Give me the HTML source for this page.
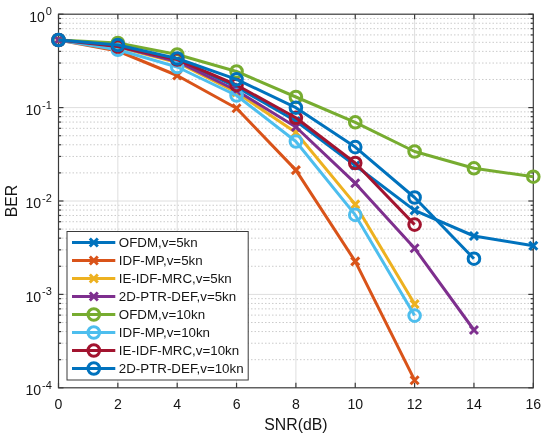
<!DOCTYPE html>
<html><head><meta charset="utf-8"><title>BER vs SNR</title>
<style>html,body{margin:0;padding:0;background:#fff;width:550px;height:434px;overflow:hidden}svg{display:block;filter:blur(0.45px)}text{font-family:"Liberation Sans",Arial,Helvetica,sans-serif;fill:#151515}</style>
</head><body>
<svg width="550" height="434" viewBox="0 0 550 434">
<rect x="0" y="0" width="550" height="434" fill="#fff"/>
<g stroke="#CBCBCB" stroke-width="1" stroke-dasharray="1.5 2" fill="none">
<line x1="58.50" y1="79.48" x2="533.30" y2="79.48"/>
<line x1="58.50" y1="63.04" x2="533.30" y2="63.04"/>
<line x1="58.50" y1="51.37" x2="533.30" y2="51.37"/>
<line x1="58.50" y1="42.32" x2="533.30" y2="42.32"/>
<line x1="58.50" y1="34.92" x2="533.30" y2="34.92"/>
<line x1="58.50" y1="28.67" x2="533.30" y2="28.67"/>
<line x1="58.50" y1="23.25" x2="533.30" y2="23.25"/>
<line x1="58.50" y1="18.47" x2="533.30" y2="18.47"/>
<line x1="58.50" y1="172.88" x2="533.30" y2="172.88"/>
<line x1="58.50" y1="156.44" x2="533.30" y2="156.44"/>
<line x1="58.50" y1="144.77" x2="533.30" y2="144.77"/>
<line x1="58.50" y1="135.72" x2="533.30" y2="135.72"/>
<line x1="58.50" y1="128.32" x2="533.30" y2="128.32"/>
<line x1="58.50" y1="122.07" x2="533.30" y2="122.07"/>
<line x1="58.50" y1="116.65" x2="533.30" y2="116.65"/>
<line x1="58.50" y1="111.87" x2="533.30" y2="111.87"/>
<line x1="58.50" y1="266.28" x2="533.30" y2="266.28"/>
<line x1="58.50" y1="249.84" x2="533.30" y2="249.84"/>
<line x1="58.50" y1="238.17" x2="533.30" y2="238.17"/>
<line x1="58.50" y1="229.12" x2="533.30" y2="229.12"/>
<line x1="58.50" y1="221.72" x2="533.30" y2="221.72"/>
<line x1="58.50" y1="215.47" x2="533.30" y2="215.47"/>
<line x1="58.50" y1="210.05" x2="533.30" y2="210.05"/>
<line x1="58.50" y1="205.27" x2="533.30" y2="205.27"/>
<line x1="58.50" y1="359.68" x2="533.30" y2="359.68"/>
<line x1="58.50" y1="343.24" x2="533.30" y2="343.24"/>
<line x1="58.50" y1="331.57" x2="533.30" y2="331.57"/>
<line x1="58.50" y1="322.52" x2="533.30" y2="322.52"/>
<line x1="58.50" y1="315.12" x2="533.30" y2="315.12"/>
<line x1="58.50" y1="308.87" x2="533.30" y2="308.87"/>
<line x1="58.50" y1="303.45" x2="533.30" y2="303.45"/>
<line x1="58.50" y1="298.67" x2="533.30" y2="298.67"/>
</g>
<g stroke="#DEDEDE" stroke-width="1" fill="none">
<line x1="117.85" y1="14.20" x2="117.85" y2="387.80"/>
<line x1="177.20" y1="14.20" x2="177.20" y2="387.80"/>
<line x1="236.55" y1="14.20" x2="236.55" y2="387.80"/>
<line x1="295.90" y1="14.20" x2="295.90" y2="387.80"/>
<line x1="355.25" y1="14.20" x2="355.25" y2="387.80"/>
<line x1="414.60" y1="14.20" x2="414.60" y2="387.80"/>
<line x1="473.95" y1="14.20" x2="473.95" y2="387.80"/>
<line x1="58.50" y1="107.60" x2="533.30" y2="107.60"/>
<line x1="58.50" y1="201.00" x2="533.30" y2="201.00"/>
<line x1="58.50" y1="294.40" x2="533.30" y2="294.40"/>
</g>
<g stroke="#3a3a3a" stroke-width="1.2" fill="none">
<rect x="58.50" y="14.20" width="474.80" height="373.60"/>
<line x1="58.50" y1="387.80" x2="58.50" y2="382.80"/>
<line x1="58.50" y1="14.20" x2="58.50" y2="19.20"/>
<line x1="117.85" y1="387.80" x2="117.85" y2="382.80"/>
<line x1="117.85" y1="14.20" x2="117.85" y2="19.20"/>
<line x1="177.20" y1="387.80" x2="177.20" y2="382.80"/>
<line x1="177.20" y1="14.20" x2="177.20" y2="19.20"/>
<line x1="236.55" y1="387.80" x2="236.55" y2="382.80"/>
<line x1="236.55" y1="14.20" x2="236.55" y2="19.20"/>
<line x1="295.90" y1="387.80" x2="295.90" y2="382.80"/>
<line x1="295.90" y1="14.20" x2="295.90" y2="19.20"/>
<line x1="355.25" y1="387.80" x2="355.25" y2="382.80"/>
<line x1="355.25" y1="14.20" x2="355.25" y2="19.20"/>
<line x1="414.60" y1="387.80" x2="414.60" y2="382.80"/>
<line x1="414.60" y1="14.20" x2="414.60" y2="19.20"/>
<line x1="473.95" y1="387.80" x2="473.95" y2="382.80"/>
<line x1="473.95" y1="14.20" x2="473.95" y2="19.20"/>
<line x1="533.30" y1="387.80" x2="533.30" y2="382.80"/>
<line x1="533.30" y1="14.20" x2="533.30" y2="19.20"/>
<line x1="58.50" y1="14.20" x2="63.50" y2="14.20"/>
<line x1="533.30" y1="14.20" x2="528.30" y2="14.20"/>
<line x1="58.50" y1="107.60" x2="63.50" y2="107.60"/>
<line x1="533.30" y1="107.60" x2="528.30" y2="107.60"/>
<line x1="58.50" y1="201.00" x2="63.50" y2="201.00"/>
<line x1="533.30" y1="201.00" x2="528.30" y2="201.00"/>
<line x1="58.50" y1="294.40" x2="63.50" y2="294.40"/>
<line x1="533.30" y1="294.40" x2="528.30" y2="294.40"/>
<line x1="58.50" y1="387.80" x2="63.50" y2="387.80"/>
<line x1="533.30" y1="387.80" x2="528.30" y2="387.80"/>
<line x1="58.50" y1="79.48" x2="61.20" y2="79.48"/>
<line x1="533.30" y1="79.48" x2="530.60" y2="79.48"/>
<line x1="58.50" y1="63.04" x2="61.20" y2="63.04"/>
<line x1="533.30" y1="63.04" x2="530.60" y2="63.04"/>
<line x1="58.50" y1="51.37" x2="61.20" y2="51.37"/>
<line x1="533.30" y1="51.37" x2="530.60" y2="51.37"/>
<line x1="58.50" y1="42.32" x2="61.20" y2="42.32"/>
<line x1="533.30" y1="42.32" x2="530.60" y2="42.32"/>
<line x1="58.50" y1="34.92" x2="61.20" y2="34.92"/>
<line x1="533.30" y1="34.92" x2="530.60" y2="34.92"/>
<line x1="58.50" y1="28.67" x2="61.20" y2="28.67"/>
<line x1="533.30" y1="28.67" x2="530.60" y2="28.67"/>
<line x1="58.50" y1="23.25" x2="61.20" y2="23.25"/>
<line x1="533.30" y1="23.25" x2="530.60" y2="23.25"/>
<line x1="58.50" y1="18.47" x2="61.20" y2="18.47"/>
<line x1="533.30" y1="18.47" x2="530.60" y2="18.47"/>
<line x1="58.50" y1="172.88" x2="61.20" y2="172.88"/>
<line x1="533.30" y1="172.88" x2="530.60" y2="172.88"/>
<line x1="58.50" y1="156.44" x2="61.20" y2="156.44"/>
<line x1="533.30" y1="156.44" x2="530.60" y2="156.44"/>
<line x1="58.50" y1="144.77" x2="61.20" y2="144.77"/>
<line x1="533.30" y1="144.77" x2="530.60" y2="144.77"/>
<line x1="58.50" y1="135.72" x2="61.20" y2="135.72"/>
<line x1="533.30" y1="135.72" x2="530.60" y2="135.72"/>
<line x1="58.50" y1="128.32" x2="61.20" y2="128.32"/>
<line x1="533.30" y1="128.32" x2="530.60" y2="128.32"/>
<line x1="58.50" y1="122.07" x2="61.20" y2="122.07"/>
<line x1="533.30" y1="122.07" x2="530.60" y2="122.07"/>
<line x1="58.50" y1="116.65" x2="61.20" y2="116.65"/>
<line x1="533.30" y1="116.65" x2="530.60" y2="116.65"/>
<line x1="58.50" y1="111.87" x2="61.20" y2="111.87"/>
<line x1="533.30" y1="111.87" x2="530.60" y2="111.87"/>
<line x1="58.50" y1="266.28" x2="61.20" y2="266.28"/>
<line x1="533.30" y1="266.28" x2="530.60" y2="266.28"/>
<line x1="58.50" y1="249.84" x2="61.20" y2="249.84"/>
<line x1="533.30" y1="249.84" x2="530.60" y2="249.84"/>
<line x1="58.50" y1="238.17" x2="61.20" y2="238.17"/>
<line x1="533.30" y1="238.17" x2="530.60" y2="238.17"/>
<line x1="58.50" y1="229.12" x2="61.20" y2="229.12"/>
<line x1="533.30" y1="229.12" x2="530.60" y2="229.12"/>
<line x1="58.50" y1="221.72" x2="61.20" y2="221.72"/>
<line x1="533.30" y1="221.72" x2="530.60" y2="221.72"/>
<line x1="58.50" y1="215.47" x2="61.20" y2="215.47"/>
<line x1="533.30" y1="215.47" x2="530.60" y2="215.47"/>
<line x1="58.50" y1="210.05" x2="61.20" y2="210.05"/>
<line x1="533.30" y1="210.05" x2="530.60" y2="210.05"/>
<line x1="58.50" y1="205.27" x2="61.20" y2="205.27"/>
<line x1="533.30" y1="205.27" x2="530.60" y2="205.27"/>
<line x1="58.50" y1="359.68" x2="61.20" y2="359.68"/>
<line x1="533.30" y1="359.68" x2="530.60" y2="359.68"/>
<line x1="58.50" y1="343.24" x2="61.20" y2="343.24"/>
<line x1="533.30" y1="343.24" x2="530.60" y2="343.24"/>
<line x1="58.50" y1="331.57" x2="61.20" y2="331.57"/>
<line x1="533.30" y1="331.57" x2="530.60" y2="331.57"/>
<line x1="58.50" y1="322.52" x2="61.20" y2="322.52"/>
<line x1="533.30" y1="322.52" x2="530.60" y2="322.52"/>
<line x1="58.50" y1="315.12" x2="61.20" y2="315.12"/>
<line x1="533.30" y1="315.12" x2="530.60" y2="315.12"/>
<line x1="58.50" y1="308.87" x2="61.20" y2="308.87"/>
<line x1="533.30" y1="308.87" x2="530.60" y2="308.87"/>
<line x1="58.50" y1="303.45" x2="61.20" y2="303.45"/>
<line x1="533.30" y1="303.45" x2="530.60" y2="303.45"/>
<line x1="58.50" y1="298.67" x2="61.20" y2="298.67"/>
<line x1="533.30" y1="298.67" x2="530.60" y2="298.67"/>
</g>
<g font-size="14.10" text-anchor="middle">
<text x="58.50" y="409.30">0</text>
<text x="117.85" y="409.30">2</text>
<text x="177.20" y="409.30">4</text>
<text x="236.55" y="409.30">6</text>
<text x="295.90" y="409.30">8</text>
<text x="355.25" y="409.30">10</text>
<text x="414.60" y="409.30">12</text>
<text x="473.95" y="409.30">14</text>
<text x="533.30" y="409.30">16</text>
</g>
<text x="51.8" y="21.60" font-size="14.10" text-anchor="end">10<tspan font-size="11.00" dx="0.8" dy="-6.5">0</tspan></text>
<text x="51.8" y="115.00" font-size="14.10" text-anchor="end">10<tspan font-size="11.00" dx="0.8" dy="-6.5">-1</tspan></text>
<text x="51.8" y="208.40" font-size="14.10" text-anchor="end">10<tspan font-size="11.00" dx="0.8" dy="-6.5">-2</tspan></text>
<text x="51.8" y="301.80" font-size="14.10" text-anchor="end">10<tspan font-size="11.00" dx="0.8" dy="-6.5">-3</tspan></text>
<text x="51.8" y="395.20" font-size="14.10" text-anchor="end">10<tspan font-size="11.00" dx="0.8" dy="-6.5">-4</tspan></text>
<text x="295.90" y="429.5" font-size="15.80" text-anchor="middle">SNR(dB)</text>
<text transform="translate(17.2 201.00) rotate(-90)" font-size="15.80" text-anchor="middle">BER</text>
<g stroke-linejoin="round" stroke-linecap="butt">
<polyline points="58.50,40.00 117.85,46.00 177.20,60.00 236.55,87.00 295.90,121.00 355.25,165.50 414.60,210.40 473.95,236.00 533.30,245.70" fill="none" stroke="#0072BD" stroke-width="3.00"/>
<path d="M54.50 36.00L62.50 44.00M54.50 44.00L62.50 36.00" stroke="#0072BD" stroke-width="3.00" fill="none"/>
<path d="M113.85 42.00L121.85 50.00M113.85 50.00L121.85 42.00" stroke="#0072BD" stroke-width="3.00" fill="none"/>
<path d="M173.20 56.00L181.20 64.00M173.20 64.00L181.20 56.00" stroke="#0072BD" stroke-width="3.00" fill="none"/>
<path d="M232.55 83.00L240.55 91.00M232.55 91.00L240.55 83.00" stroke="#0072BD" stroke-width="3.00" fill="none"/>
<path d="M291.90 117.00L299.90 125.00M291.90 125.00L299.90 117.00" stroke="#0072BD" stroke-width="3.00" fill="none"/>
<path d="M351.25 161.50L359.25 169.50M351.25 169.50L359.25 161.50" stroke="#0072BD" stroke-width="3.00" fill="none"/>
<path d="M410.60 206.40L418.60 214.40M410.60 214.40L418.60 206.40" stroke="#0072BD" stroke-width="3.00" fill="none"/>
<path d="M469.95 232.00L477.95 240.00M469.95 240.00L477.95 232.00" stroke="#0072BD" stroke-width="3.00" fill="none"/>
<path d="M529.30 241.70L537.30 249.70M529.30 249.70L537.30 241.70" stroke="#0072BD" stroke-width="3.00" fill="none"/>
<polyline points="58.50,40.00 117.85,51.00 177.20,75.50 236.55,108.30 295.90,170.10 355.25,261.40 414.60,380.20" fill="none" stroke="#D95319" stroke-width="3.00"/>
<path d="M54.50 36.00L62.50 44.00M54.50 44.00L62.50 36.00" stroke="#D95319" stroke-width="3.00" fill="none"/>
<path d="M113.85 47.00L121.85 55.00M113.85 55.00L121.85 47.00" stroke="#D95319" stroke-width="3.00" fill="none"/>
<path d="M173.20 71.50L181.20 79.50M173.20 79.50L181.20 71.50" stroke="#D95319" stroke-width="3.00" fill="none"/>
<path d="M232.55 104.30L240.55 112.30M232.55 112.30L240.55 104.30" stroke="#D95319" stroke-width="3.00" fill="none"/>
<path d="M291.90 166.10L299.90 174.10M291.90 174.10L299.90 166.10" stroke="#D95319" stroke-width="3.00" fill="none"/>
<path d="M351.25 257.40L359.25 265.40M351.25 265.40L359.25 257.40" stroke="#D95319" stroke-width="3.00" fill="none"/>
<path d="M410.60 376.20L418.60 384.20M410.60 384.20L418.60 376.20" stroke="#D95319" stroke-width="3.00" fill="none"/>
<polyline points="58.50,40.00 117.85,47.00 177.20,62.50 236.55,92.50 295.90,132.50 355.25,204.40 414.60,304.10" fill="none" stroke="#EDB120" stroke-width="3.00"/>
<path d="M54.50 36.00L62.50 44.00M54.50 44.00L62.50 36.00" stroke="#EDB120" stroke-width="3.00" fill="none"/>
<path d="M113.85 43.00L121.85 51.00M113.85 51.00L121.85 43.00" stroke="#EDB120" stroke-width="3.00" fill="none"/>
<path d="M173.20 58.50L181.20 66.50M173.20 66.50L181.20 58.50" stroke="#EDB120" stroke-width="3.00" fill="none"/>
<path d="M232.55 88.50L240.55 96.50M232.55 96.50L240.55 88.50" stroke="#EDB120" stroke-width="3.00" fill="none"/>
<path d="M291.90 128.50L299.90 136.50M291.90 136.50L299.90 128.50" stroke="#EDB120" stroke-width="3.00" fill="none"/>
<path d="M351.25 200.40L359.25 208.40M351.25 208.40L359.25 200.40" stroke="#EDB120" stroke-width="3.00" fill="none"/>
<path d="M410.60 300.10L418.60 308.10M410.60 308.10L418.60 300.10" stroke="#EDB120" stroke-width="3.00" fill="none"/>
<polyline points="58.50,40.00 117.85,46.50 177.20,61.50 236.55,90.50 295.90,127.00 355.25,183.20 414.60,248.30 473.95,330.00" fill="none" stroke="#7E2F8E" stroke-width="3.00"/>
<path d="M54.50 36.00L62.50 44.00M54.50 44.00L62.50 36.00" stroke="#7E2F8E" stroke-width="3.00" fill="none"/>
<path d="M113.85 42.50L121.85 50.50M113.85 50.50L121.85 42.50" stroke="#7E2F8E" stroke-width="3.00" fill="none"/>
<path d="M173.20 57.50L181.20 65.50M173.20 65.50L181.20 57.50" stroke="#7E2F8E" stroke-width="3.00" fill="none"/>
<path d="M232.55 86.50L240.55 94.50M232.55 94.50L240.55 86.50" stroke="#7E2F8E" stroke-width="3.00" fill="none"/>
<path d="M291.90 123.00L299.90 131.00M291.90 131.00L299.90 123.00" stroke="#7E2F8E" stroke-width="3.00" fill="none"/>
<path d="M351.25 179.20L359.25 187.20M351.25 187.20L359.25 179.20" stroke="#7E2F8E" stroke-width="3.00" fill="none"/>
<path d="M410.60 244.30L418.60 252.30M410.60 252.30L418.60 244.30" stroke="#7E2F8E" stroke-width="3.00" fill="none"/>
<path d="M469.95 326.00L477.95 334.00M469.95 334.00L477.95 326.00" stroke="#7E2F8E" stroke-width="3.00" fill="none"/>
<polyline points="58.50,40.00 117.85,43.00 177.20,54.50 236.55,71.50 295.90,97.00 355.25,122.30 414.60,151.50 473.95,168.30 533.30,176.70" fill="none" stroke="#77AC30" stroke-width="3.00"/>
<circle cx="58.50" cy="40.00" r="5.80" fill="none" stroke="#77AC30" stroke-width="3.00"/>
<circle cx="117.85" cy="43.00" r="5.80" fill="none" stroke="#77AC30" stroke-width="3.00"/>
<circle cx="177.20" cy="54.50" r="5.80" fill="none" stroke="#77AC30" stroke-width="3.00"/>
<circle cx="236.55" cy="71.50" r="5.80" fill="none" stroke="#77AC30" stroke-width="3.00"/>
<circle cx="295.90" cy="97.00" r="5.80" fill="none" stroke="#77AC30" stroke-width="3.00"/>
<circle cx="355.25" cy="122.30" r="5.80" fill="none" stroke="#77AC30" stroke-width="3.00"/>
<circle cx="414.60" cy="151.50" r="5.80" fill="none" stroke="#77AC30" stroke-width="3.00"/>
<circle cx="473.95" cy="168.30" r="5.80" fill="none" stroke="#77AC30" stroke-width="3.00"/>
<circle cx="533.30" cy="176.70" r="5.80" fill="none" stroke="#77AC30" stroke-width="3.00"/>
<polyline points="58.50,40.00 117.85,49.80 177.20,67.00 236.55,95.50 295.90,141.50 355.25,214.90 414.60,315.60" fill="none" stroke="#4DBEEE" stroke-width="3.00"/>
<circle cx="58.50" cy="40.00" r="5.80" fill="none" stroke="#4DBEEE" stroke-width="3.00"/>
<circle cx="117.85" cy="49.80" r="5.80" fill="none" stroke="#4DBEEE" stroke-width="3.00"/>
<circle cx="177.20" cy="67.00" r="5.80" fill="none" stroke="#4DBEEE" stroke-width="3.00"/>
<circle cx="236.55" cy="95.50" r="5.80" fill="none" stroke="#4DBEEE" stroke-width="3.00"/>
<circle cx="295.90" cy="141.50" r="5.80" fill="none" stroke="#4DBEEE" stroke-width="3.00"/>
<circle cx="355.25" cy="214.90" r="5.80" fill="none" stroke="#4DBEEE" stroke-width="3.00"/>
<circle cx="414.60" cy="315.60" r="5.80" fill="none" stroke="#4DBEEE" stroke-width="3.00"/>
<polyline points="58.50,40.00 117.85,46.50 177.20,59.50 236.55,85.00 295.90,117.80 355.25,163.00 414.60,224.60" fill="none" stroke="#A2142F" stroke-width="3.00"/>
<circle cx="58.50" cy="40.00" r="5.80" fill="none" stroke="#A2142F" stroke-width="3.00"/>
<circle cx="117.85" cy="46.50" r="5.80" fill="none" stroke="#A2142F" stroke-width="3.00"/>
<circle cx="177.20" cy="59.50" r="5.80" fill="none" stroke="#A2142F" stroke-width="3.00"/>
<circle cx="236.55" cy="85.00" r="5.80" fill="none" stroke="#A2142F" stroke-width="3.00"/>
<circle cx="295.90" cy="117.80" r="5.80" fill="none" stroke="#A2142F" stroke-width="3.00"/>
<circle cx="355.25" cy="163.00" r="5.80" fill="none" stroke="#A2142F" stroke-width="3.00"/>
<circle cx="414.60" cy="224.60" r="5.80" fill="none" stroke="#A2142F" stroke-width="3.00"/>
<polyline points="58.50,40.00 117.85,45.00 177.20,58.50 236.55,79.30 295.90,107.70 355.25,147.10 414.60,197.50 473.95,258.70" fill="none" stroke="#0072BD" stroke-width="3.00"/>
<circle cx="58.50" cy="40.00" r="5.80" fill="none" stroke="#0072BD" stroke-width="3.00"/>
<circle cx="117.85" cy="45.00" r="5.80" fill="none" stroke="#0072BD" stroke-width="3.00"/>
<circle cx="177.20" cy="58.50" r="5.80" fill="none" stroke="#0072BD" stroke-width="3.00"/>
<circle cx="236.55" cy="79.30" r="5.80" fill="none" stroke="#0072BD" stroke-width="3.00"/>
<circle cx="295.90" cy="107.70" r="5.80" fill="none" stroke="#0072BD" stroke-width="3.00"/>
<circle cx="355.25" cy="147.10" r="5.80" fill="none" stroke="#0072BD" stroke-width="3.00"/>
<circle cx="414.60" cy="197.50" r="5.80" fill="none" stroke="#0072BD" stroke-width="3.00"/>
<circle cx="473.95" cy="258.70" r="5.80" fill="none" stroke="#0072BD" stroke-width="3.00"/>
</g>
<rect x="67.00" y="231.50" width="181.20" height="148.50" fill="#fff" stroke="#3a3a3a" stroke-width="1"/>
<line x1="72" y1="242.50" x2="115.3" y2="242.50" stroke="#0072BD" stroke-width="3.00"/>
<path d="M89.80 238.50L97.80 246.50M89.80 246.50L97.80 238.50" stroke="#0072BD" stroke-width="3.00" fill="none"/>
<text x="118.8" y="247.30" font-size="13.33">OFDM,v=5kn</text>
<line x1="72" y1="260.50" x2="115.3" y2="260.50" stroke="#D95319" stroke-width="3.00"/>
<path d="M89.80 256.50L97.80 264.50M89.80 264.50L97.80 256.50" stroke="#D95319" stroke-width="3.00" fill="none"/>
<text x="118.8" y="265.30" font-size="13.33">IDF-MP,v=5kn</text>
<line x1="72" y1="278.50" x2="115.3" y2="278.50" stroke="#EDB120" stroke-width="3.00"/>
<path d="M89.80 274.50L97.80 282.50M89.80 282.50L97.80 274.50" stroke="#EDB120" stroke-width="3.00" fill="none"/>
<text x="118.8" y="283.30" font-size="13.33">IE-IDF-MRC,v=5kn</text>
<line x1="72" y1="296.50" x2="115.3" y2="296.50" stroke="#7E2F8E" stroke-width="3.00"/>
<path d="M89.80 292.50L97.80 300.50M89.80 300.50L97.80 292.50" stroke="#7E2F8E" stroke-width="3.00" fill="none"/>
<text x="118.8" y="301.30" font-size="13.33">2D-PTR-DEF,v=5kn</text>
<line x1="72" y1="314.50" x2="115.3" y2="314.50" stroke="#77AC30" stroke-width="3.00"/>
<circle cx="93.80" cy="314.50" r="5.80" fill="none" stroke="#77AC30" stroke-width="3.00"/>
<text x="118.8" y="319.30" font-size="13.33">OFDM,v=10kn</text>
<line x1="72" y1="332.50" x2="115.3" y2="332.50" stroke="#4DBEEE" stroke-width="3.00"/>
<circle cx="93.80" cy="332.50" r="5.80" fill="none" stroke="#4DBEEE" stroke-width="3.00"/>
<text x="118.8" y="337.30" font-size="13.33">IDF-MP,v=10kn</text>
<line x1="72" y1="350.50" x2="115.3" y2="350.50" stroke="#A2142F" stroke-width="3.00"/>
<circle cx="93.80" cy="350.50" r="5.80" fill="none" stroke="#A2142F" stroke-width="3.00"/>
<text x="118.8" y="355.30" font-size="13.33">IE-IDF-MRC,v=10kn</text>
<line x1="72" y1="368.50" x2="115.3" y2="368.50" stroke="#0072BD" stroke-width="3.00"/>
<circle cx="93.80" cy="368.50" r="5.80" fill="none" stroke="#0072BD" stroke-width="3.00"/>
<text x="118.8" y="373.30" font-size="13.33">2D-PTR-DEF,v=10kn</text>
</svg>
</body></html>
